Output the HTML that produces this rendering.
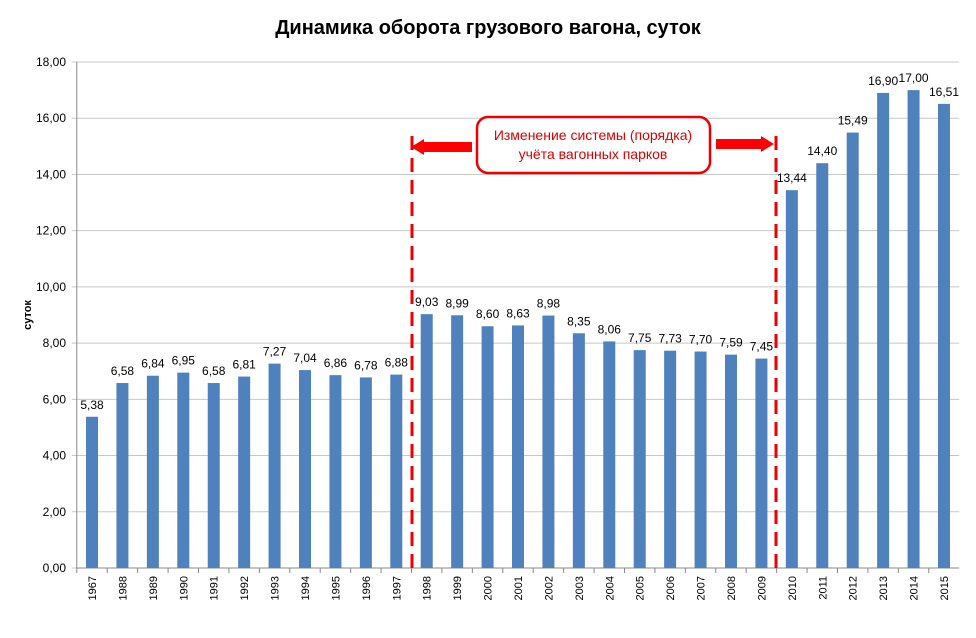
<!DOCTYPE html>
<html><head><meta charset="utf-8"><style>
body{margin:0;background:#fff;}
svg text{font-family:"Liberation Sans","DejaVu Sans",sans-serif;}
</style></head><body>
<svg id="s" width="976" height="633" xmlns="http://www.w3.org/2000/svg">
<text x="488" y="34" text-anchor="middle" font-size="20" font-weight="bold" fill="#000">Динамика оборота грузового вагона, суток</text>
<text transform="translate(31,315) rotate(-90)" text-anchor="middle" font-size="11" font-weight="bold">суток</text>
<g id="g"></g>
<rect x="477" y="117" width="233" height="56" rx="11" fill="#fff" stroke="#e00" stroke-width="2.5"/>
<text x="593" y="140" text-anchor="middle" font-size="14" fill="#d00">Изменение системы  (порядка)</text>
<text x="593" y="159" text-anchor="middle" font-size="14" fill="#d00">учёта вагонных парков</text>
<rect x="422" y="142" width="50" height="10" fill="#f00"/>
<polygon points="411,147 424,139 424,155" fill="#f00"/>
<rect x="716" y="139" width="46" height="10" fill="#f00"/>
<polygon points="774,144 761,136 761,152" fill="#f00"/>
<line x1="412" y1="136" x2="412" y2="568" stroke="#e00" stroke-width="3" stroke-dasharray="14,8"/>
<line x1="776" y1="136" x2="776" y2="568" stroke="#e00" stroke-width="3" stroke-dasharray="14,8"/>
</svg>
<script>
(function(){
var yrs=["1967","1988","1989","1990","1991","1992","1993","1994","1995","1996","1997","1998","1999","2000","2001","2002","2003","2004","2005","2006","2007","2008","2009","2010","2011","2012","2013","2014","2015"];
var v=[5.38,6.58,6.84,6.95,6.58,6.81,7.27,7.04,6.86,6.78,6.88,9.03,8.99,8.60,8.63,8.98,8.35,8.06,7.75,7.73,7.70,7.59,7.45,13.44,14.40,15.49,16.90,17.00,16.51];
var n=v.length,x0=76.8,x1=959.2,bot=568,tp=62,cw=(x1-x0)/n,h='';
for(var i=0;i<=9;i++){var y=bot-(bot-tp)*i/9;
 h+='<line x1="'+(x0-5)+'" x2="'+x1+'" y1="'+y+'" y2="'+y+'" stroke="#c8c8c8" stroke-width="1"/>';
 h+='<text x="66" y="'+(y+4)+'" text-anchor="end" font-size="12">'+(i*2).toFixed(2).replace('.',',')+'</text>';}
h+='<line x1="'+x0+'" x2="'+x0+'" y1="'+tp+'" y2="'+bot+'" stroke="#888"/>';
h+='<line x1="'+x0+'" x2="'+x1+'" y1="'+bot+'" y2="'+bot+'" stroke="#888"/>';
for(var i=0;i<n;i++){var cx=x0+cw*(i+0.5),bh=v[i]/18*(bot-tp);
 h+='<line x1="'+(x0+cw*i)+'" x2="'+(x0+cw*i)+'" y1="'+bot+'" y2="'+(bot+5)+'" stroke="#888"/>';
 h+='<rect x="'+(cx-6)+'" y="'+(bot-bh)+'" width="12" height="'+bh+'" fill="#4f81bd"/>';
 h+='<text x="'+cx+'" y="'+(bot-bh-8)+'" text-anchor="middle" font-size="12">'+v[i].toFixed(2).replace('.',',')+'</text>';
 h+='<text transform="translate('+(cx+4)+','+(bot+8)+') rotate(-90)" text-anchor="end" font-size="11">'+yrs[i]+'</text>';}
document.getElementById('g').innerHTML=h;
})();
</script>
</body></html>
